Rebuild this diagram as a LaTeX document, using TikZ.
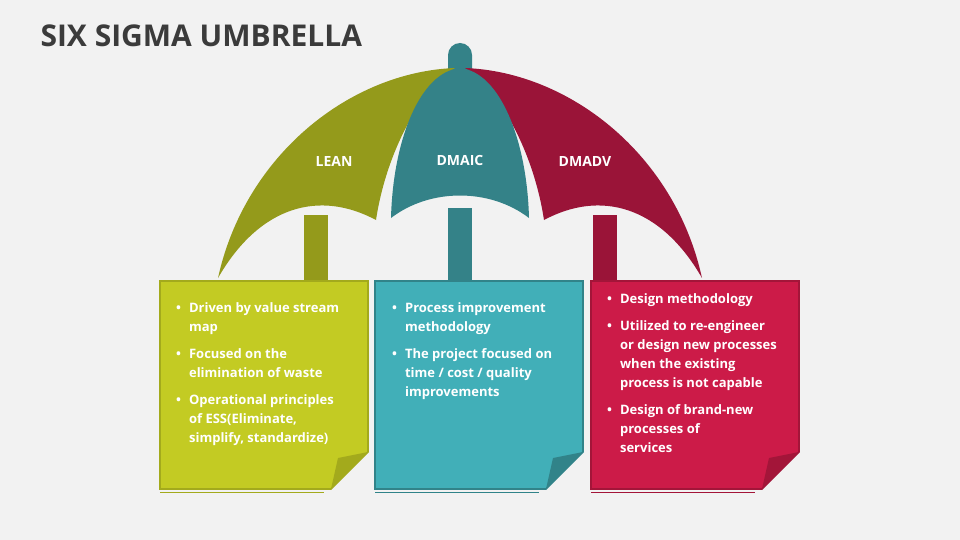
\documentclass[tikz,border=0pt]{standalone}
\usepackage{fontspec}
\setmainfont{Open Sans}
\usepackage{array}
\definecolor{bg}{HTML}{F2F2F2}
\definecolor{gA}{HTML}{949A1B}\definecolor{gB}{HTML}{C3CB23}\definecolor{gC}{HTML}{A3AA1C}
\definecolor{tA}{HTML}{348288}\definecolor{tB}{HTML}{41AFB8}\definecolor{tC}{HTML}{318389}
\definecolor{rA}{HTML}{9A1438}\definecolor{rB}{HTML}{CC1B48}\definecolor{rC}{HTML}{A31539}
\definecolor{ttl}{HTML}{3B3B3B}
\newcommand{\itm}[1]{\textbullet & #1}
\newcommand{\gapp}{\\\noalign{\vskip 8pt}}
\newcommand{\blist}[1]{\begin{tabular}{@{}l@{\hspace{8pt}}>{\raggedright\arraybackslash}p{175pt}@{}}#1\end{tabular}}
\begin{document}
\begin{tikzpicture}[x=1pt,y=-1pt,
  lab/.style={text=white,font=\bfseries\fontsize{14}{16}\selectfont},
  btxt/.style={text=white,anchor=north west,inner sep=0pt,font=\bfseries\fontsize{13}{19}\selectfont}]
\fill[bg] (0,0) rectangle (960,540);
\useasboundingbox (0,0) rectangle (960,540);
\node[anchor=west,text=ttl,font=\bfseries\fontsize{30}{32}\selectfont] (title) at (37,36) {SIX SIGMA UMBRELLA};
% knob
\fill[tA] (448,80) -- (448,55) arc[start angle=180,end angle=360,radius=12] -- (472,80) -- cycle;
% posts
\fill[gA] (304,215) rectangle (328,281);
\fill[tA] (448,208) rectangle (472,281);
\fill[rA] (593,215) rectangle (617,281);
% canopy
\fill[gA] (218,278) .. controls (245,155) and (350,72) .. (455,68)
  .. controls (415,95) and (385,160) .. (376,220)
  .. controls (320,190) and (260,205) .. (218,278) -- cycle;
\fill[rA] (702,278) .. controls (675,155) and (570,72) .. (465,68)
  .. controls (505,95) and (535,160) .. (544,220)
  .. controls (600,190) and (660,205) .. (702,278) -- cycle;
\fill[tA] (391,218) .. controls (393,140) and (420,72) .. (460,68)
  .. controls (500,72) and (527,140) .. (529,218)
  .. controls (490,188) and (430,188) .. (391,218) -- cycle;
\node[lab] (lean) at (334,161) {LEAN};
\node[lab] (dmaic) at (460,161) {DMAIC};
\node[lab] (dmadv) at (585,161) {DMADV};
% boxes
\foreach \x/\fc/\bc in {160/gB/gC,375/tB/tC,591/rB/rC}{
  \fill[\fc,draw=\bc,line width=1.6pt] (\x,281) -- (\x+208,281) -- (\x+208,452) -- (\x+171,489) -- (\x,489) -- cycle;
  \fill[\bc] (\x+208,452) -- (\x+178,458) -- (\x+171,489) -- cycle;
  \draw[\bc,line width=1.6pt] (\x,492.5) -- (\x+164,492.5);
}
\node[btxt] (t1) at (176,299) {\blist{\itm{Driven by value stream\newline map}\gapp
 \itm{Focused on the\newline elimination of waste}\gapp
 \itm{Operational principles\newline of ESS(Eliminate,\newline simplify, standardize)}}};
\node[btxt] (t2) at (392,299) {\blist{\itm{Process improvement\newline methodology}\gapp
 \itm{The project focused on\newline time / cost / quality\newline improvements}}};
\node[btxt] (t3) at (607,290) {\blist{\itm{Design methodology}\gapp
 \itm{Utilized to re-engineer\newline or design new processes\newline when the existing\newline process is not capable}\gapp
 \itm{Design of brand-new\newline processes of\newline services}}};
\end{tikzpicture}
\end{document}
